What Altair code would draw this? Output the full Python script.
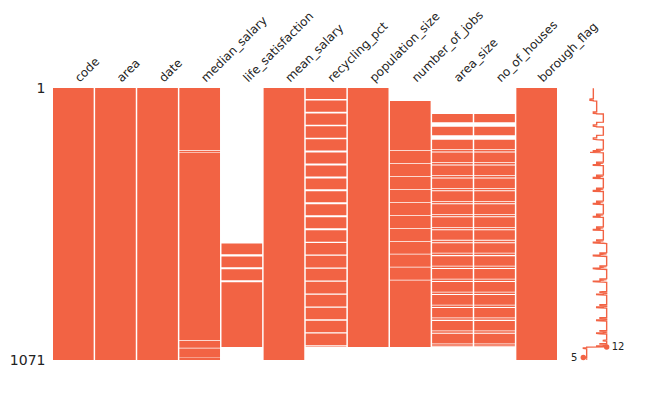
import altair as alt
import pandas as pd
import numpy as np

# ---------------- data ----------------
columns = ["code", "area", "date", "median_salary", "life_satisfaction",
           "mean_salary", "recycling_pct", "population_size", "number_of_jobs",
           "area_size", "no_of_houses", "borough_flag"]
first_year = 1999
last_year = 2019
areas_per_year = 51          # rows per year block (rows sorted by date)
n_rows = 1071

# missing cells: column -> list of (year_from, year_to, first_area_offset, last_area_offset)
missing = {
    "median_salary": [(2003, 2003, 41, 43), (2003, 2003, 49, 50),
                      (2018, 2018, 24, 26), (2019, 2019, 3, 5), (2019, 2019, 41, 41)],
    "life_satisfaction": [(1999, 2010, 0, 50), (2011, 2013, 43, 50), (2019, 2019, 0, 50)],
    "recycling_pct": [(1999, 2002, 43, 48), (2003, 2009, 42, 49),
                      (2010, 2018, 44, 48), (2019, 2019, 0, 50)],
    "population_size": [(2019, 2019, 0, 50)],
    "number_of_jobs": [(1999, 1999, 0, 50), (2003, 2013, 41, 43), (2019, 2019, 0, 50)],
    "area_size": [(1999, 2000, 0, 50), (2001, 2002, 33, 50),
                  (2003, 2018, 37, 39), (2003, 2018, 46, 49), (2019, 2019, 0, 50)],
    "no_of_houses": [(1999, 2000, 0, 50), (2001, 2002, 33, 50),
                     (2003, 2018, 37, 39), (2003, 2018, 46, 49), (2019, 2019, 0, 50)],
}

matrix_color = "#F26344"
text_color = "#222222"

# ---------------- build presence matrix ----------------
present = {c: np.ones(n_rows, dtype=bool) for c in columns}
for col, specs in missing.items():
    for y0, y1, a0, a1 in specs:
        for yr in range(y0, y1 + 1):
            base = (yr - first_year) * areas_per_year
            present[col][base + a0: base + a1 + 1] = False

# contiguous present runs -> rectangles
seg_rows = []
for col in columns:
    arr = present[col]
    r = 0
    while r < n_rows:
        if arr[r]:
            s = r
            while r < n_rows and arr[r]:
                r += 1
            seg_rows.append({"column": col, "start": s, "end": r})
        else:
            r += 1
segments = pd.DataFrame(seg_rows)

completeness = np.sum([present[c].astype(int) for c in columns], axis=0)
spark = pd.DataFrame({"row": np.arange(n_rows) + 0.5, "completeness": completeness})
max_val = int(completeness.max())
min_val = int(completeness.min())
max_idx = int(np.where(completeness == max_val)[0][-1])
min_idx = int(np.where(completeness == min_val)[0][-1])
marks = pd.DataFrame({
    "row": [max_idx + 0.5, min_idx + 0.5],
    "completeness": [max_val, min_val],
    "label": [str(max_val), str(min_val)],
    "side": ["right", "left"],
})

y_scale = alt.Scale(domain=[0, n_rows], reverse=True, nice=False, zero=False)

matrix = alt.Chart(segments).mark_rect(color=matrix_color, strokeWidth=0).encode(
    x=alt.X("column:N", sort=columns,
            scale=alt.Scale(paddingInner=0.035, paddingOuter=0),
            axis=alt.Axis(orient="top", labelAngle=-45, labelAlign="left",
                          labelBaseline="top", ticks=False, domain=False,
                          labelPadding=12, labelFontSize=12, labelColor=text_color,
                          title=None)),
    y=alt.Y("start:Q", scale=y_scale,
            axis=alt.Axis(values=[0, n_rows],
                          labelExpr="datum.value == 0 ? '1' : format(datum.value, 'd')",
                          ticks=False, domain=False, grid=False, labelFlush=False,
                          labelFontSize=14, labelPadding=8, labelColor=text_color,
                          title=None)),
    y2="end:Q",
).properties(width=504, height=272)

x_spark = alt.Scale(domain=[1, 16], nice=False, zero=False)
y_spark = alt.Scale(domain=[0, n_rows], reverse=True, nice=False, zero=False)

spark_line = alt.Chart(spark).mark_line(color=matrix_color, strokeWidth=1.4).encode(
    x=alt.X("completeness:Q", scale=x_spark, axis=None),
    y=alt.Y("row:Q", scale=y_spark, axis=None),
    order="row:Q",
)
spark_pts = alt.Chart(marks).mark_circle(color=matrix_color, size=30, opacity=1).encode(
    x=alt.X("completeness:Q", scale=x_spark, axis=None),
    y=alt.Y("row:Q", scale=y_spark, axis=None),
)
lbl_r = alt.Chart(marks[marks.side == "right"]).mark_text(
    align="left", dx=5, fontSize=10, color=text_color).encode(
    x=alt.X("completeness:Q", scale=x_spark, axis=None),
    y=alt.Y("row:Q", scale=y_spark, axis=None),
    text="label:N",
)
lbl_l = alt.Chart(marks[marks.side == "left"]).mark_text(
    align="right", dx=-6, fontSize=10, color=text_color).encode(
    x=alt.X("completeness:Q", scale=x_spark, axis=None),
    y=alt.Y("row:Q", scale=y_spark, axis=None),
    text="label:N",
)
sparkline = alt.layer(spark_line, spark_pts, lbl_r, lbl_l).properties(width=50, height=272)

chart = alt.hconcat(matrix, sparkline, spacing=13, bounds="flush").properties(
    padding={"left": 1, "top": 0, "right": 5, "bottom": 5}
).configure(font="DejaVu Sans").configure_view(strokeWidth=0)

chart.save("out.html", embed_options={"renderer": "svg", "actions": False})
